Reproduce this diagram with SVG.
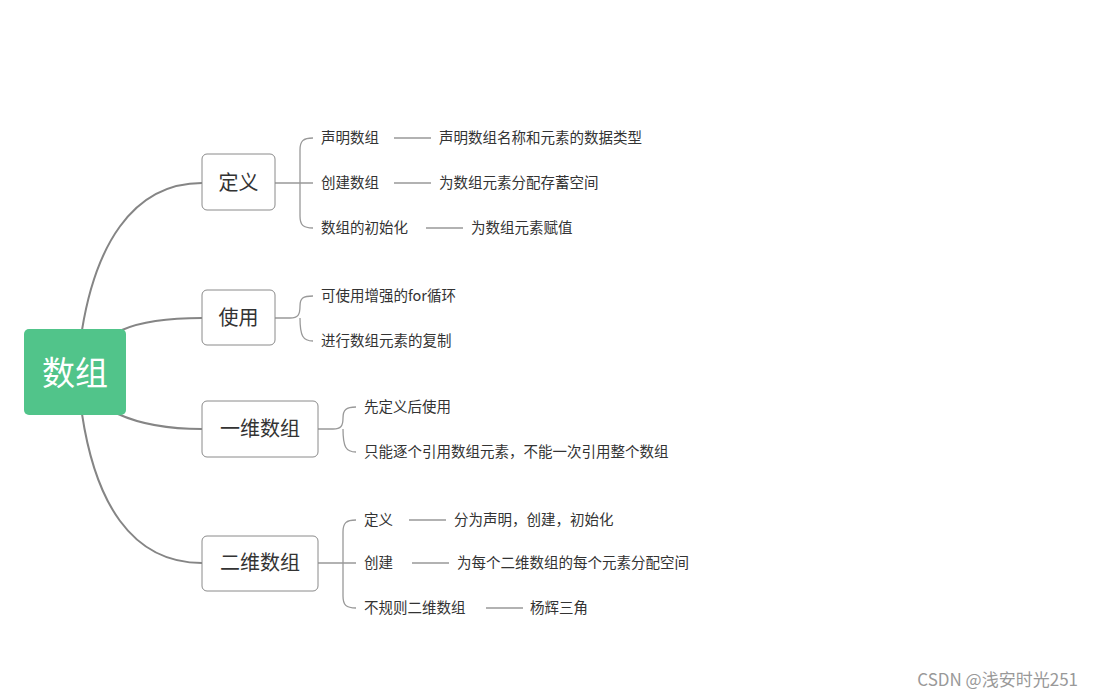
<svg xmlns="http://www.w3.org/2000/svg" width="1094" height="698" viewBox="0 0 1094 698">
<style>
.c{fill:none;stroke:#858585;stroke-width:2}
.b{fill:none;stroke:#999;stroke-width:1.3}
.n{fill:#fff;stroke:#8a8a8a;stroke-width:1}
.t{font-family:"Noto Sans CJK SC","Liberation Sans",sans-serif;font-size:20px;fill:#333}
.s{font-family:"Noto Sans CJK SC","Liberation Sans",sans-serif;font-size:14.5px;fill:#333}
.d{stroke:#999;stroke-width:1.3}
</style>
<rect width="1094" height="698" fill="#fff"/>
<g id="connectors">
<path class="c" d="M82,330 C95,250 130,183 202,183"/>
<path class="c" d="M122,330 C140,322 165,318 202,318"/>
<path class="c" d="M118,414 C140,424 165,429 202,429"/>
<path class="c" d="M82,414 C95,500 130,563 202,563"/>
<path class="b" d="M275,183 H300 M313,138 C303,138 300,141 300,150 V216 C300,225 303,228 313,228 M300,183 H313"/>
<path class="b" d="M275,318 H290 C298,318 300,315 300,306 C300,298 303,296 313,296 M300,318 C300,336 303,341 313,341"/>
<path class="b" d="M318,429 H333 C341,429 343,426 343,418 C343,410 346,407 356,407 M343,429 C343,447 346,452 356,452"/>
<path class="b" d="M318,563 H343 M356,520 C346,520 343,523 343,532 V596 C343,605 346,608 356,608 M343,563 H356"/>
<path class="d" d="M394,138 H431 M394,183 H431 M426,228 H463 M409,520 H446 M412,563 H449 M486,608 H523"/>
</g>
<g id="root"><rect x="24" y="329" width="102" height="86" rx="5" fill="#51c48a"/><text x="75" y="385" font-family="Noto Sans CJK SC,sans-serif" font-size="33" fill="#fff" text-anchor="middle">数组</text></g>
<g id="n1"><rect class="n" x="202" y="154" width="73" height="56" rx="5"/><text class="t" x="238.5" y="190" text-anchor="middle">定义</text></g>
<g id="n2"><rect class="n" x="202" y="290" width="73" height="55" rx="5"/><text class="t" x="238.5" y="325" text-anchor="middle">使用</text></g>
<g id="n3"><rect class="n" x="202" y="401" width="116" height="56" rx="5"/><text class="t" x="260" y="436" text-anchor="middle">一维数组</text></g>
<g id="n4"><rect class="n" x="202" y="536" width="116" height="55" rx="5"/><text class="t" x="260" y="570" text-anchor="middle">二维数组</text></g>
<g id="leaves">
<text class="s" x="321" y="143">声明数组</text><text class="s" x="439" y="143">声明数组名称和元素的数据类型</text>
<text class="s" x="321" y="188">创建数组</text><text class="s" x="439" y="188">为数组元素分配存蓄空间</text>
<text class="s" x="321" y="233">数组的初始化</text><text class="s" x="471" y="233">为数组元素赋值</text>
<text class="s" x="321" y="301">可使用增强的for循环</text>
<text class="s" x="321" y="346">进行数组元素的复制</text>
<text class="s" x="364" y="412">先定义后使用</text>
<text class="s" x="364" y="457">只能逐个引用数组元素，不能一次引用整个数组</text>
<text class="s" x="364" y="525">定义</text><text class="s" x="454" y="525">分为声明，创建，初始化</text>
<text class="s" x="364" y="568">创建</text><text class="s" x="457" y="568">为每个二维数组的每个元素分配空间</text>
<text class="s" x="364" y="613">不规则二维数组</text><text class="s" x="530" y="613">杨辉三角</text>
</g>
<text x="1078" y="686" font-family="Noto Sans CJK SC,sans-serif" font-size="17" fill="#999" text-anchor="end">CSDN @浅安时光251</text>
</svg>
